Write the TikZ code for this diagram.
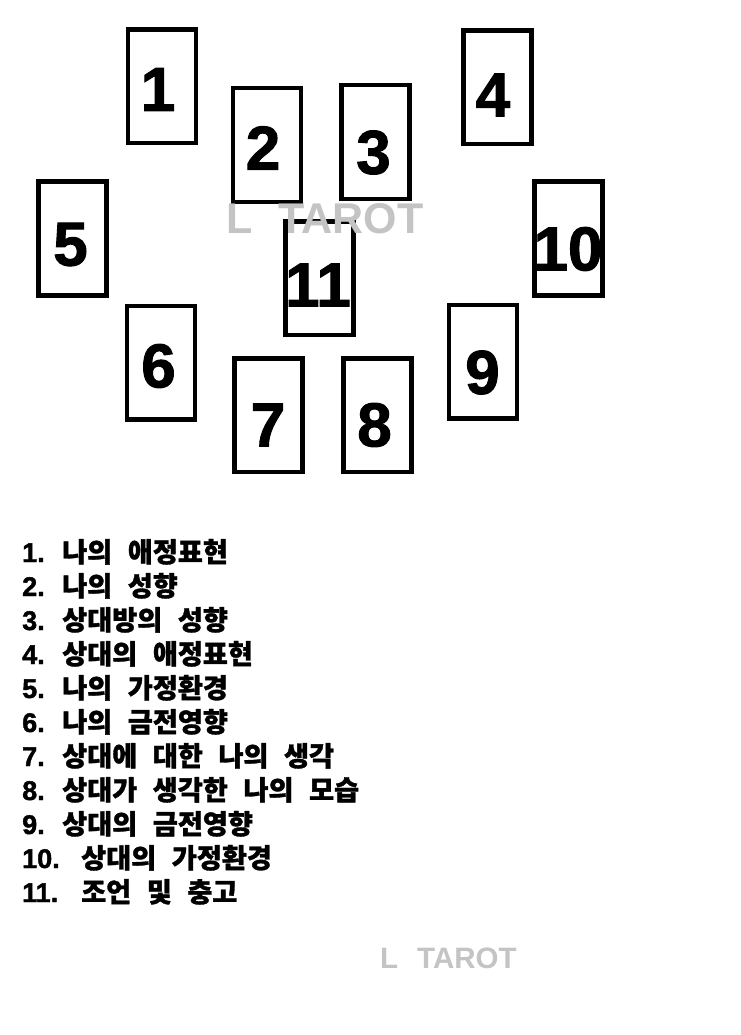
\documentclass[tikz,border=0pt]{standalone}
\usepackage{fontspec}
\newfontfamily\numfont{Liberation Sans}[BoldFeatures={FakeBold=1.6}]
\newfontfamily\listfont{Liberation Sans}[BoldFeatures={FakeBold=1.6}]
\newfontfamily\wmfont{Liberation Sans}
\newfontfamily\kr{Noto Sans CJK KR}[WordSpace=2.5, BoldFeatures={FakeBold=1.2}]
\definecolor{wm}{HTML}{C4C4C4}
\tikzset{
  card/.style={draw=black, line width=4.5pt, fill=white, rectangle,
    minimum width=68pt, minimum height=113.5pt, inner sep=0pt},
  cardnum/.style={inner sep=0pt, font=\numfont\bfseries\fontsize{62}{62}\selectfont},
  item/.style={inner sep=0pt, anchor=base west, text=black},
  wmark/.style={inner sep=0pt, anchor=base west, text=wm},
}
\newcommand\listnum[2]{\makebox[#1][l]{\listfont\bfseries\fontsize{27}{27}\selectfont #2}}
\newcommand\kt[1]{{\kr\bfseries\fontsize{27.2}{27.2}\selectfont #1}}
\begin{document}
\begin{tikzpicture}[x=1pt,y=-1pt]
\path[fill=white] (0,0) rectangle (740,1035);
\useasboundingbox (0,0) rectangle (740,1035);
% cards
\node[card] (c1) at (162,86.5) {};
\node[card] (c2) at (267,145) {};
\node[card] (c3) at (375.5,142) {};
\node[card] (c4) at (497.5,87.5) {};
\node[card] (c5) at (72.5,238.5) {};
\node[card] (c6) at (161,362.5) {};
\node[card] (c7) at (268.5,415) {};
\node[card] (c8) at (377.5,415) {};
\node[card] (c9) at (483,361.5) {};
\node[card] (c10) at (568.5,238.5) {};
\node[card] (c11) at (319.5,278) {};
% card numbers
\node[cardnum] (n1) at (158,89.5) {1};
\node[cardnum] (n2) at (263,148) {2};
\node[cardnum] (n3) at (373.5,152.5) {3};
\node[cardnum] (n4) at (493,95) {4};
\node[cardnum] (n5) at (70.5,244.5) {5};
\node[cardnum] (n6) at (158.5,366) {6};
\node[cardnum] (n7) at (268,425) {7};
\node[cardnum] (n8) at (374.5,425) {8};
\node[cardnum] (n9) at (482.5,372.5) {9};
\node[cardnum] (n10) at (568,249) {10};
\node[cardnum] (n11) at (318,285) {11};
% watermark over the cards
\node[wmark, font=\wmfont\bfseries\fontsize{43}{43}\selectfont] (wm1) at (226,233) {L\hspace{26pt}TAROT};
% list
\node[item] (l1) at (22,562) {\listnum{40pt}{1.}\kt{나의 애정표현}};
\node[item] (l2) at (22,596) {\listnum{40pt}{2.}\kt{나의 성향}};
\node[item] (l3) at (22,630) {\listnum{40pt}{3.}\kt{상대방의 성향}};
\node[item] (l4) at (22,664) {\listnum{40pt}{4.}\kt{상대의 애정표현}};
\node[item] (l5) at (22,698) {\listnum{40pt}{5.}\kt{나의 가정환경}};
\node[item] (l6) at (22,732) {\listnum{40pt}{6.}\kt{나의 금전영향}};
\node[item] (l7) at (22,766) {\listnum{40pt}{7.}\kt{상대에 대한 나의 생각}};
\node[item] (l8) at (22,800) {\listnum{40pt}{8.}\kt{상대가 생각한 나의 모습}};
\node[item] (l9) at (22,834) {\listnum{40pt}{9.}\kt{상대의 금전영향}};
\node[item] (l10) at (22,868) {\listnum{59pt}{10.}\kt{상대의 가정환경}};
\node[item] (l11) at (22,902) {\listnum{59pt}{11.}\kt{조언 및 충고}};
% bottom watermark
\node[wmark, font=\wmfont\bfseries\fontsize{29.5}{29.5}\selectfont] (wm2) at (380,968) {L\hspace{19pt}TAROT};
\end{tikzpicture}
\end{document}
